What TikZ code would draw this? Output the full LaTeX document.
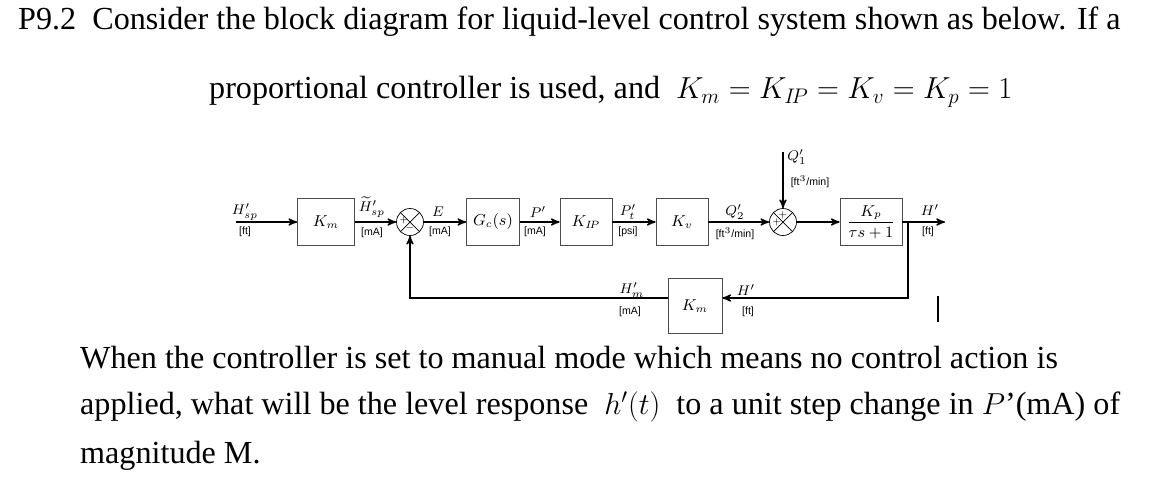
\documentclass[tikz,border=0pt]{standalone}
\usepackage{fontspec}
\setmainfont{Liberation Serif}
\newfontfamily\unitfont{Liberation Sans}
\usetikzlibrary{arrows}
\tikzstyle{block} = [rectangle, draw=black!70, minimum height=0.94cm, inner sep=1pt, font=\fontsize{9}{10}\selectfont]
\tikzstyle{sumpt} = [circle, draw=black, minimum size=0.54cm, inner sep=0pt]
\tikzstyle{sig} = [font=\fontsize{8}{9}\selectfont]
\tikzstyle{unit} = [font=\unitfont\fontsize{6}{7}\selectfont]
\tikzstyle{arrow} = [thick,->,>=stealth']
\tikzstyle{line} = [thick]
\tikzstyle{para} = [anchor=west, font=\fontsize{18.3}{20}\selectfont]
\begin{document}
\begin{tikzpicture}[x=0.02cm,y=-0.02cm]
                \useasboundingbox (0,0) rectangle (1167,485);
                \node[para] (t1) at (12,22) {P9.2\ \ Consider the block diagram for liquid-level control system shown as below. If a};
                \node[para] (t2) at (203,92) {proportional controller is used, and\ \ $K_m=K_{I\!P}=K_v=K_p=1$};
                \node[para] (t3) at (74,358) {When the controller is set to manual mode which means no control action is};
                \node[para] (t4) at (74,407) {applied, what will be the level response\ \ $h'(t)$\ \ to a unit step change in $P$'(mA) of};
                \node[para] (t5) at (74,456) {magnitude M.};

                \coordinate (in) at (236,222);
                \node (km) [block, minimum width=1.14cm] at (326,222) {$K_m$};
                \node (sum1) [sumpt] at (410,222) {};
                \node (gc) [block, minimum width=1.06cm] at (493,222) {$G_c(s)$};
                \node (kip) [block, minimum width=1.04cm] at (586,222) {$K_{I\!P}$};
                \node (kv) [block, minimum width=1.04cm] at (682,222) {$K_v$};
                \node (sum2) [sumpt] at (783,222) {};
                \node (kp) [block, minimum width=1.24cm] at (871,222) {$\displaystyle\frac{K_p}{\tau s+1}$};
                \coordinate (out) at (945,222);
                \coordinate (tap) at (908,222);
                \coordinate (q1) at (783,152);
                \node (kmb) [block, minimum width=1.08cm, minimum height=1.1cm] at (695,306) {$K_m$};
                \coordinate (cor1) at (908,298);
                \coordinate (cor2) at (410,298);

                \draw (sum1.north west) -- (sum1.south east) (sum1.south west) -- (sum1.north east);
                \draw (sum2.north west) -- (sum2.south east) (sum2.south west) -- (sum2.north east);
                \node[font=\tiny] at (404,220) {$+$};
                \node[font=\tiny] at (410,228) {$-$};
                \node[font=\tiny] at (777,222) {$+$};
                \node[font=\tiny] at (783,215) {$+$};

                \draw[arrow] (in) -- (km);
                \draw[arrow] (km) -- (sum1);
                \draw[arrow] (sum1) -- (gc);
                \draw[arrow] (gc) -- (kip);
                \draw[arrow] (kip) -- (kv);
                \draw[arrow] (kv) -- (sum2);
                \draw[arrow] (q1) -- (sum2);
                \draw[arrow] (sum2) -- (kp);
                \draw[arrow] (kp) -- (out);
                \draw[arrow] (tap) -- (cor1) -- (kmb.east |- cor1);
                \draw[arrow] (kmb.west |- cor2) -- (cor2) -- (sum1);
                \draw[line] (938,296) -- (938,322);

                \node[sig] at (245,212) {$H'_{sp}$};
                \node[unit] at (245,232) {[ft]};
                \node[sig] at (372,207) {$\widetilde{H}'_{sp}$};
                \node[unit] at (372,233) {[mA]};
                \node[sig] at (438,212) {$E$};
                \node[unit] at (440,232) {[mA]};
                \node[sig] at (538,212) {$P'$};
                \node[unit] at (535,232) {[mA]};
                \node[sig] at (628,212) {$P'_t$};
                \node[unit] at (628,232) {[psi]};
                \node[sig] at (735,212) {$Q'_2$};
                \node[unit] at (735,234) {[ft$^3$/min]};
                \node[sig] at (797,157) {$Q'_1$};
                \node[unit] at (810,182) {[ft$^3$/min]};
                \node[sig] at (930,210) {$H'$};
                \node[unit] at (928,232) {[ft]};
                \node[sig] at (632,290) {$H'_m$};
                \node[unit] at (630,312) {[mA]};
                \node[sig] at (746,290) {$H'$};
                \node[unit] at (748,312) {[ft]};
\end{tikzpicture}
\end{document}
